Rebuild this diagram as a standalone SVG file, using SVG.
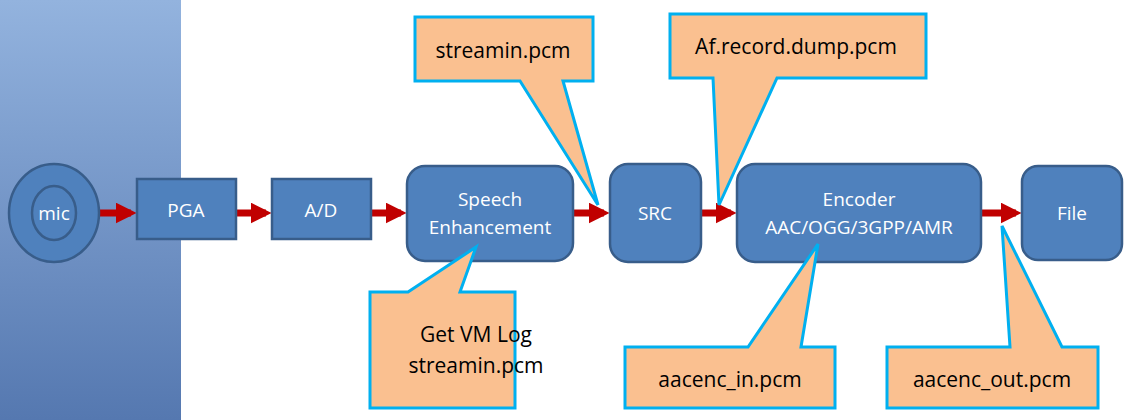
<svg xmlns="http://www.w3.org/2000/svg" width="1148" height="420" viewBox="0 0 1148 420">
<defs>
<linearGradient id="bg" x1="0" y1="0" x2="0" y2="1"><stop offset="0" stop-color="#93b3de"/><stop offset="1" stop-color="#5578b0"/></linearGradient>
<marker id="ah" markerWidth="3" markerHeight="3" refX="2.2" refY="1.5" orient="auto" markerUnits="strokeWidth"><path d="M0,0 L3,1.5 L0,3 z" fill="#c00000"/></marker>
</defs>
<style>
.n{fill:#4f81bd;stroke:#385d8a;stroke-width:2.5}
.c{fill:#fac090;stroke:#00b0f0;stroke-width:3;stroke-linejoin:miter}
.t{font-family:"Open Sans","Noto Sans",sans-serif;font-size:19px;fill:#fff;text-anchor:middle}
.k{font-family:"Open Sans","Noto Sans",sans-serif;font-size:21px;fill:#000;text-anchor:middle}
.a{stroke:#c00000;stroke-width:7;fill:none;marker-end:url(#ah)}
</style>
<rect x="0" y="0" width="1148" height="420" fill="#fff"/>
<rect x="0" y="0" width="181" height="420" fill="url(#bg)"/>
<g id="connectors">
<line class="a" x1="99" y1="213" x2="131" y2="213"/>
<line class="a" x1="236" y1="213" x2="266" y2="213"/>
<line class="a" x1="371" y1="213" x2="401" y2="213"/>
<line class="a" x1="573" y1="213" x2="604" y2="213"/>
<line class="a" x1="701" y1="213" x2="731" y2="213"/>
<line class="a" x1="981" y1="213" x2="1016" y2="213"/>
</g>
<g id="mic"><ellipse class="n" cx="54" cy="213" rx="45" ry="49"/><ellipse class="n" cx="54" cy="213" rx="22" ry="27"/><text class="t" x="54" y="220">mic</text></g>
<g id="pga"><rect class="n" x="137" y="179" width="99" height="60"/><text class="t" x="186" y="217">PGA</text></g>
<g id="ad"><rect class="n" x="272" y="179" width="99" height="60"/><text class="t" x="321" y="217">A/D</text></g>
<g id="speech"><rect class="n" x="407" y="166" width="166" height="95" rx="18"/><text class="t" x="490" y="206">Speech</text><text class="t" x="490" y="234">Enhancement</text></g>
<g id="src"><rect class="n" x="610" y="164" width="91" height="98" rx="18"/><text class="t" x="655" y="220">SRC</text></g>
<g id="encoder"><rect class="n" x="737" y="164" width="244" height="98" rx="18"/><text class="t" x="859" y="206">Encoder</text><text class="t" x="859" y="234">AAC/OGG/3GPP/AMR</text></g>
<g id="file"><rect class="n" x="1022" y="166" width="100" height="94" rx="16"/><text class="t" x="1072" y="220">File</text></g>
<g id="callout-streamin"><path class="c" d="M415,17 H593 V81 H563 L598,205 L520,81 H415 Z"/><text class="k" x="503" y="58">streamin.pcm</text></g>
<g id="callout-af"><path class="c" d="M670,14 H926 V78 H777 L719,205 L713,78 H670 Z"/><text class="k" x="796" y="54">Af.record.dump.pcm</text></g>
<g id="callout-vm"><path class="c" d="M370,292 H408 L476,247 L460,292 H515 V408 H370 Z"/><text class="k" x="476" y="342">Get VM Log</text><text class="k" x="476" y="373">streamin.pcm</text></g>
<g id="callout-in"><path class="c" d="M625,347 H748 L818,244 L801,347 H835 V408 H625 Z"/><text class="k" x="730" y="387">aacenc_in.pcm</text></g>
<g id="callout-out"><path class="c" d="M887,347 H1010 L1002,226 L1062,347 H1098 V408 H887 Z"/><text class="k" x="992" y="387">aacenc_out.pcm</text></g>
</svg>
